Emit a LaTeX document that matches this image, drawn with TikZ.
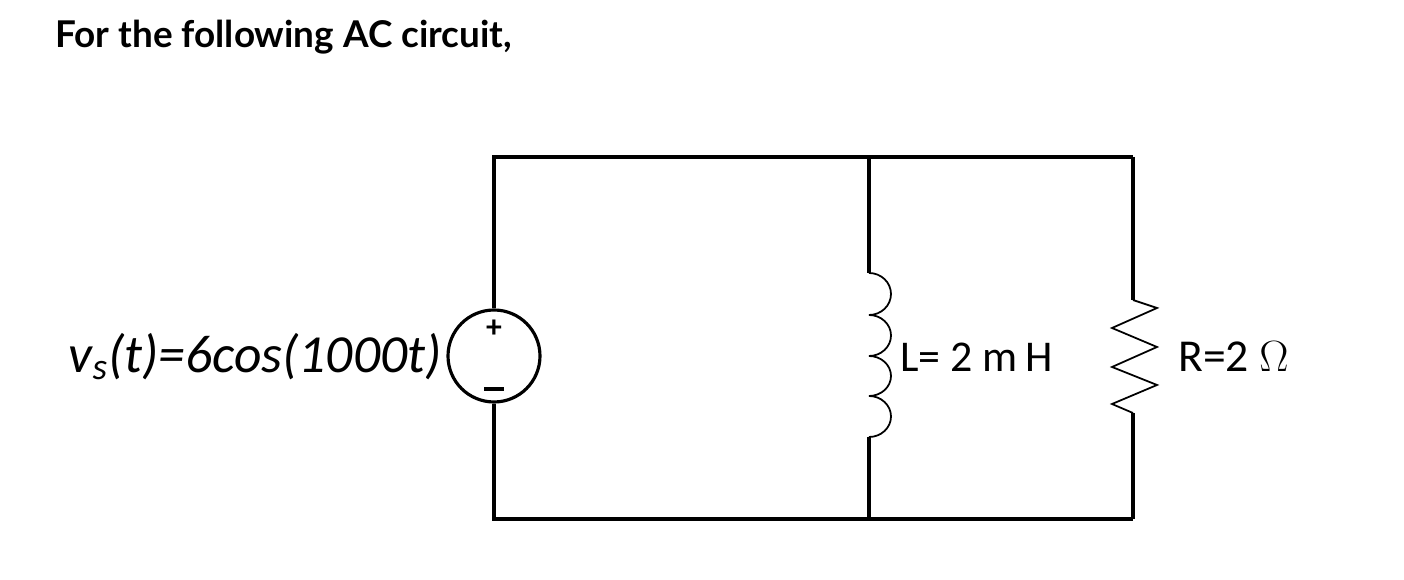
\documentclass[tikz,border=0pt]{standalone}
\usepackage{fontspec}
\setmainfont{Carlito}
\newfontfamily\titlefont{Lato}
\begin{document}
\begin{tikzpicture}[x=0.02cm,y=-0.02cm,
  wire/.style={line width=1.8pt,black},
  thin wire/.style={line width=1pt,black},
  lbl/.style={inner sep=0pt,anchor=west}]
\useasboundingbox (0,0) rectangle (1404,580);
\node[lbl,anchor=base west] (title) at (55,48) {\titlefont\bfseries\fontsize{21}{24}\selectfont For the following AC circuit,};
% corners
\coordinate (tl) at (494,157); \coordinate (tm) at (869,157); \coordinate (tr) at (1133,157);
\coordinate (bl) at (494,519); \coordinate (bm) at (869,519); \coordinate (br) at (1133,519);
% source
\node[circle,draw,line width=1.8pt,minimum size=92*0.02cm,inner sep=0pt] (src) at (494,356) {};
\node (plus) at (494,329) {\fontsize{18}{18}\selectfont\bfseries +};
\draw[line width=2.4pt] (484,389) -- (504,389);
\draw[wire] (src.north) -- (tl) -- (tm) -- (tr);
\draw[wire] (src.south) -- (bl) -- (bm) -- (br);
% inductor
\coordinate (lt) at (869,273); \coordinate (lb) at (869,437);
\draw[wire] (tm) -- (lt);
\draw[wire] (lb) -- (bm);
\draw[thin wire] (lt) arc[start angle=90,end angle=-90,x radius=22,y radius=-21]
  arc[start angle=90,end angle=-90,x radius=22,y radius=-20.5]
  arc[start angle=90,end angle=-90,x radius=22,y radius=-20]
  arc[start angle=90,end angle=-90,x radius=22,y radius=-20.5];
\node[lbl] (L) at (900,357) {\fontsize{25}{25}\selectfont L= 2 m\,H};
% resistor
\coordinate (rt) at (1133,300); \coordinate (rb) at (1133,413);
\draw[wire] (tr) -- (rt);
\draw[wire] (rb) -- (br);
\draw[thin wire] (rt) -- (1157,308) -- (1112,328) -- (1157,347) -- (1112,367) -- (1157,385) -- (1112,404) -- (rb);
\node[lbl] (R) at (1178,357) {\fontsize{26}{26}\selectfont R=2 $\Omega$};
\node[lbl,anchor=east] (vs) at (442,357) {\fontsize{30.5}{30}\selectfont\itshape v\textsubscript{s}(t)=6cos(1000t)};
\end{tikzpicture}
\end{document}
